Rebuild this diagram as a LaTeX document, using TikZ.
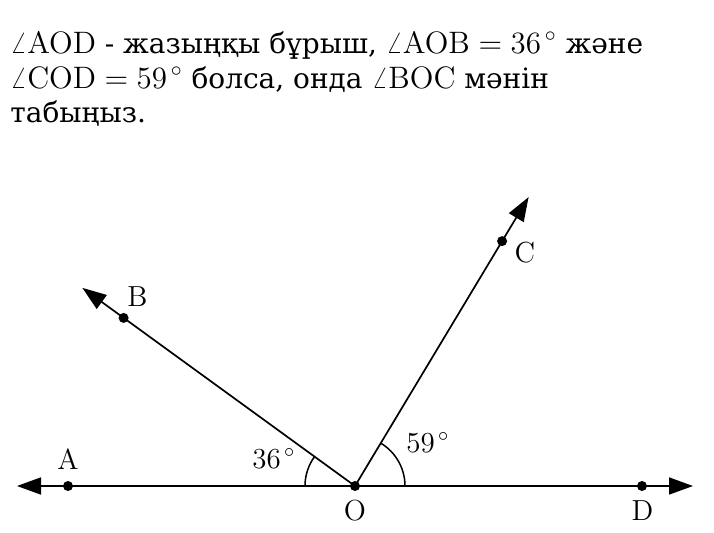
\RequirePackage{fix-cm}
\documentclass[tikz,border=0pt]{standalone}
\usepackage[no-math]{fontspec}
\setmainfont{DejaVu Serif}
\usetikzlibrary{arrows.meta}
\newcommand{\mth}[1]{{\fontsize{15.5}{18}\selectfont$#1$}}
\tikzset{
  txt/.style={anchor=base west, inner sep=0pt, font=\fontsize{14}{17}\selectfont},
  lbl/.style={inner sep=0pt, font=\fontsize{14.5}{17}\selectfont},
  dot/.style={circle, fill=black, inner sep=0pt, minimum size=5pt},
  ln/.style={line width=0.85pt},
  tip/.style={-{Triangle[length=12pt, width=8.5pt]}},
  tips/.style={{Triangle[length=12pt, width=8.5pt]}-{Triangle[length=12pt, width=8.5pt]}},
  ang/.style={line width=0.75pt}
}
\begin{document}
\begin{tikzpicture}[x=0.5pt, y=-0.5pt]
\useasboundingbox (0,0) rectangle (714,532);
% text
\node[txt] (l1) at (10,53) {\mth{\angle\mathrm{AOD}} - жазыңқы бұрыш, \mth{\angle\mathrm{AOB}=36^{\,\circ}} және};
\node[txt] (l2) at (10,88) {\mth{\angle\mathrm{COD}=59^{\,\circ}} болса, онда \mth{\angle\mathrm{BOC}} мәнін};
\node[txt] (l3) at (10,122) {табыңыз.};
% geometry
\coordinate (O) at (355,486);
\coordinate (L) at (17,486);
\coordinate (R) at (693,486);
\coordinate (Bt) at (82.4,287.9);
\coordinate (Ct) at (528.6,197.1);
\draw[ln, tips] (L) -- (R);
\draw[ln, tip] (O) -- (Bt);
\draw[ln, tip] (O) -- (Ct);
\draw[ang] (O) ++(-50,0) arc[start angle=180, end angle=216, radius=50];
\draw[ang] (O) ++(50,0) arc[start angle=0, end angle=-59, radius=50];
\node[dot] (A) at (68,486) {};
\node[dot] (D) at (642,486) {};
\node[dot] (Od) at (O) {};
\node[dot] (B) at (123.6,317.9) {};
\node[dot] (C) at (502.1,241.1) {};
% labels
\node[lbl] (lA) at (68,460) {$\mathrm{A}$};
\node[lbl] (lB) at (137.5,296.5) {$\mathrm{B}$};
\node[lbl] (lC) at (525,252.5) {$\mathrm{C}$};
\node[lbl] (lD) at (642.5,510.5) {$\mathrm{D}$};
\node[lbl] (lO) at (355,511) {$\mathrm{O}$};
\node[lbl, anchor=base west] (a36) at (252,468) {$36^{\,\circ}$};
\node[lbl, anchor=base west] (a59) at (406,452.5) {$59^{\,\circ}$};
\end{tikzpicture}
\end{document}
